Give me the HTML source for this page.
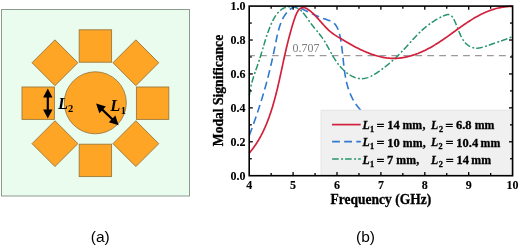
<!DOCTYPE html>
<html><head><meta charset="utf-8"><style>
html,body{margin:0;padding:0;background:#fff;width:520px;height:247px;overflow:hidden}
svg{display:block;filter:blur(0.3px)}
</style></head><body>
<svg width="520" height="247" viewBox="0 0 520 247">
<rect x="0" y="0" width="520" height="247" fill="#fff"/>
<!-- panel (a) -->
<rect x="1.5" y="9.5" width="188" height="186.5" fill="#e9fcee" stroke="#8e9a90" stroke-width="1"/>
<g fill="#ffa526" stroke="#9c7a3c" stroke-width="0.9">
<rect x="-16.20" y="-16.20" width="32.4" height="32.4" transform="translate(95.40,46.00) rotate(0)"/>
<rect x="-16.20" y="-16.20" width="32.4" height="32.4" transform="translate(135.85,62.75) rotate(45)"/>
<rect x="-16.20" y="-16.20" width="32.4" height="32.4" transform="translate(152.60,103.20) rotate(90)"/>
<rect x="-16.20" y="-16.20" width="32.4" height="32.4" transform="translate(135.85,143.65) rotate(135)"/>
<rect x="-16.20" y="-16.20" width="32.4" height="32.4" transform="translate(95.40,160.40) rotate(180)"/>
<rect x="-16.20" y="-16.20" width="32.4" height="32.4" transform="translate(54.95,143.65) rotate(225)"/>
<rect x="-16.20" y="-16.20" width="32.4" height="32.4" transform="translate(38.20,103.20) rotate(270)"/>
<rect x="-16.20" y="-16.20" width="32.4" height="32.4" transform="translate(54.95,62.75) rotate(315)"/>
<circle cx="95.3" cy="102.8" r="31.0"/>
</g>
<line x1="47.80" y1="95.60" x2="47.80" y2="111.20" stroke="#000" stroke-width="2.2"/>
<polygon points="47.80,88.40 43.10,97.40 52.50,97.40" fill="#000"/>
<polygon points="47.80,118.40 43.10,109.40 52.50,109.40" fill="#000"/>
<line x1="101.29" y1="108.59" x2="113.41" y2="120.21" stroke="#000" stroke-width="2.2"/>
<polygon points="96.10,103.60 99.34,113.22 105.85,106.44" fill="#000"/>
<polygon points="118.60,125.20 108.85,122.36 115.36,115.58" fill="#000"/>
<g font-family="Liberation Serif, serif" font-weight="bold" fill="#000">
<text x="57.9" y="109.3" font-size="16.5" font-style="italic">L</text>
<text x="68.0" y="111.6" font-size="10.5">2</text>
<text x="110.2" y="111.2" font-size="16.5" font-style="italic">L</text>
<text x="120.8" y="113.9" font-size="10.5">1</text>
</g>
<!-- panel (b) -->
<g fill="none" stroke-linejoin="round" stroke-linecap="butt">
<line x1="249.2" y1="55.7" x2="512.6" y2="55.7" stroke="#9a9a9a" stroke-width="1.3" stroke-dasharray="6.8 5.15" stroke-dashoffset="1.2"/>
<path d="M249.41,95.35 L249.52,94.34 L249.64,93.33 L249.78,92.33 L249.93,91.33 L250.10,90.33 L250.29,89.33 L250.48,88.34 L250.69,87.35 L250.91,86.36 L251.15,85.37 L251.39,84.39 L251.64,83.40 L251.91,82.42 L252.18,81.44 L252.46,80.47 L252.75,79.49 L253.05,78.52 L253.35,77.55 L253.66,76.58 L253.97,75.61 L254.29,74.64 L254.62,73.67 L254.94,72.71 L255.27,71.75 L255.60,70.78 L255.94,69.82 L256.27,68.86 L256.61,67.90 L256.94,66.95 L257.28,65.99 L257.61,65.03 L257.94,64.08 L258.27,63.12 L258.59,62.17 L258.91,61.22 L259.23,60.27 L259.54,59.31 L259.85,58.36 L260.15,57.41 L260.44,56.46 L260.74,55.51 L261.03,54.56 L261.32,53.61 L261.60,52.66 L261.89,51.71 L262.17,50.76 L262.45,49.81 L262.73,48.86 L263.01,47.91 L263.29,46.95 L263.57,46.00 L263.86,45.05 L264.14,44.10 L264.43,43.15 L264.72,42.19 L265.01,41.24 L265.30,40.28 L265.60,39.33 L265.91,38.37 L266.22,37.41 L266.53,36.45 L266.85,35.49 L267.17,34.53 L267.50,33.57 L267.84,32.61 L268.19,31.64 L268.54,30.68 L268.91,29.71 L269.28,28.74 L269.66,27.77 L270.05,26.80 L270.45,25.83 L270.86,24.85 L271.28,23.88 L271.71,22.91 L272.16,21.94 L272.62,20.99 L273.10,20.04 L273.59,19.10 L274.10,18.19 L274.62,17.28 L275.17,16.40 L275.74,15.54 L276.32,14.71 L276.93,13.90 L277.56,13.13 L278.21,12.38 L278.89,11.67 L279.59,11.00 L280.32,10.36 L281.07,9.77 L281.86,9.22 L282.67,8.72 L283.51,8.27 L284.38,7.87 L285.29,7.52 L286.22,7.23 L287.18,7.00 L288.16,6.82 L289.16,6.70 L290.17,6.64 L291.17,6.64 L292.18,6.69 L293.17,6.81 L294.15,6.99 L295.10,7.23 L296.03,7.53 L296.93,7.89 L297.79,8.32 L298.61,8.80 L299.41,9.33 L300.18,9.91 L300.92,10.53 L301.64,11.20 L302.34,11.90 L303.01,12.64 L303.67,13.41 L304.32,14.21 L304.95,15.02 L305.57,15.86 L306.19,16.71 L306.79,17.58 L307.39,18.45 L307.99,19.33 L308.59,20.20 L309.20,21.08 L309.80,21.95 L310.41,22.80 L311.04,23.65 L311.66,24.48 L312.30,25.30 L312.94,26.11 L313.58,26.92 L314.22,27.71 L314.87,28.50 L315.52,29.28 L316.16,30.06 L316.81,30.84 L317.45,31.61 L318.08,32.38 L318.72,33.16 L319.34,33.93 L319.96,34.71 L320.57,35.49 L321.17,36.27 L321.75,37.07 L322.33,37.87 L322.89,38.67 L323.44,39.49 L323.98,40.31 L324.51,41.14 L325.03,41.98 L325.53,42.83 L326.03,43.68 L326.53,44.53 L327.01,45.39 L327.50,46.26 L327.97,47.13 L328.45,48.00 L328.92,48.87 L329.40,49.75 L329.87,50.62 L330.35,51.50 L330.82,52.38 L331.31,53.25 L331.79,54.13 L332.28,55.00 L332.78,55.88 L333.29,56.75 L333.80,57.61 L334.33,58.47 L334.86,59.33 L335.41,60.19 L335.97,61.03 L336.54,61.87 L337.13,62.71 L337.74,63.54 L338.36,64.35 L339.00,65.17 L339.66,65.97 L340.34,66.76 L341.04,67.54 L341.77,68.31 L342.51,69.07 L343.28,69.82 L344.07,70.55 L344.88,71.27 L345.71,71.96 L346.55,72.63 L347.41,73.28 L348.28,73.90 L349.17,74.49 L350.06,75.06 L350.97,75.59 L351.89,76.08 L352.81,76.54 L353.74,76.97 L354.68,77.35 L355.62,77.68 L356.56,77.98 L357.50,78.22 L358.45,78.42 L359.39,78.57 L360.33,78.66 L361.26,78.70 L362.19,78.68 L363.12,78.62 L364.05,78.50 L364.97,78.34 L365.88,78.14 L366.79,77.89 L367.70,77.61 L368.60,77.28 L369.50,76.92 L370.40,76.53 L371.29,76.11 L372.17,75.66 L373.05,75.19 L373.93,74.69 L374.80,74.16 L375.67,73.62 L376.53,73.07 L377.39,72.50 L378.24,71.91 L379.09,71.32 L379.94,70.72 L380.77,70.11 L381.61,69.50 L382.44,68.88 L383.26,68.26 L384.08,67.64 L384.89,67.02 L385.70,66.39 L386.51,65.75 L387.30,65.11 L388.10,64.47 L388.88,63.82 L389.67,63.17 L390.44,62.52 L391.21,61.86 L391.98,61.19 L392.74,60.52 L393.49,59.84 L394.24,59.17 L394.99,58.48 L395.72,57.79 L396.45,57.10 L397.18,56.40 L397.90,55.69 L398.61,54.98 L399.32,54.26 L400.03,53.54 L400.72,52.81 L401.42,52.08 L402.11,51.35 L402.79,50.61 L403.48,49.87 L404.16,49.13 L404.84,48.39 L405.51,47.64 L406.19,46.89 L406.86,46.14 L407.53,45.39 L408.21,44.63 L408.88,43.88 L409.55,43.13 L410.23,42.38 L410.90,41.63 L411.58,40.88 L412.26,40.13 L412.95,39.38 L413.63,38.64 L414.32,37.90 L415.02,37.16 L415.72,36.43 L416.42,35.70 L417.13,34.97 L417.84,34.25 L418.56,33.53 L419.29,32.81 L420.02,32.11 L420.76,31.41 L421.51,30.71 L422.27,30.02 L423.03,29.34 L423.81,28.66 L424.59,28.00 L425.38,27.34 L426.17,26.69 L426.98,26.04 L427.79,25.41 L428.61,24.79 L429.43,24.17 L430.26,23.57 L431.10,22.98 L431.94,22.39 L432.79,21.82 L433.64,21.26 L434.50,20.71 L435.36,20.18 L436.23,19.65 L437.10,19.14 L437.98,18.65 L438.86,18.16 L439.74,17.69 L440.63,17.24 L441.52,16.80 L442.41,16.37 L443.31,15.96 L444.20,15.58 L445.09,15.23 L445.97,14.94 L446.83,14.72 L447.67,14.58 L448.48,14.55 L449.26,14.64 L450.00,14.86 L450.69,15.23 L451.34,15.74 L451.96,16.37 L452.54,17.11 L453.08,17.93 L453.60,18.83 L454.09,19.78 L454.56,20.77 L455.02,21.78 L455.46,22.80 L455.88,23.83 L456.30,24.86 L456.71,25.88 L457.11,26.91 L457.51,27.93 L457.91,28.95 L458.31,29.96 L458.71,30.97 L459.11,31.96 L459.52,32.95 L459.94,33.92 L460.37,34.87 L460.81,35.81 L461.27,36.73 L461.74,37.63 L462.23,38.50 L462.74,39.35 L463.28,40.18 L463.84,40.98 L464.42,41.75 L465.04,42.48 L465.69,43.19 L466.36,43.86 L467.07,44.49 L467.80,45.08 L468.56,45.62 L469.34,46.12 L470.14,46.58 L470.97,46.98 L471.83,47.32 L472.70,47.61 L473.59,47.84 L474.50,48.01 L475.42,48.12 L476.37,48.16 L477.32,48.14 L478.29,48.07 L479.28,47.95 L480.27,47.78 L481.28,47.57 L482.29,47.32 L483.31,47.04 L484.34,46.73 L485.38,46.40 L486.42,46.05 L487.46,45.69 L488.50,45.31 L489.55,44.94 L490.60,44.56 L491.64,44.18 L492.68,43.81 L493.72,43.45 L494.76,43.09 L495.79,42.73 L496.81,42.38 L497.83,42.04 L498.83,41.70 L499.83,41.36 L500.81,41.02 L501.78,40.69 L502.74,40.36 L503.68,40.03 L504.61,39.70 L505.52,39.37 L506.41,39.04 L507.29,38.71 L508.14,38.38 L508.97,38.05 L509.78,37.71 L510.56,37.37 L511.32,37.03 L512.06,36.69" stroke="#27946b" stroke-width="1.5" stroke-dasharray="6.6 2.4 2.0 2.0"/>
<path d="M249.33,135.24 L249.59,134.57 L249.85,133.89 L250.10,133.21 L250.35,132.54 L250.61,131.86 L250.86,131.19 L251.11,130.52 L251.35,129.85 L251.60,129.18 L251.85,128.51 L252.09,127.84 L252.34,127.17 L252.58,126.50 L252.82,125.84 L253.06,125.17 L253.30,124.51 L253.54,123.84 L253.78,123.18 L254.01,122.52 L254.25,121.85 L254.48,121.19 L254.72,120.53 L254.95,119.87 L255.18,119.21 L255.41,118.55 L255.64,117.90 L255.86,117.24 L256.09,116.58 L256.31,115.92 L256.54,115.27 L256.76,114.61 L256.98,113.96 L257.21,113.30 L257.43,112.65 L257.65,111.99 L257.86,111.34 L258.08,110.69 L258.30,110.03 L258.51,109.38 L258.73,108.73 L258.94,108.08 L259.15,107.43 L259.36,106.77 L259.57,106.12 L259.78,105.47 L259.99,104.82 L260.20,104.17 L260.40,103.52 L260.61,102.87 L260.81,102.22 L261.02,101.57 L261.22,100.92 L261.42,100.27 L261.62,99.62 L261.82,98.97 L262.02,98.32 L262.22,97.67 L262.41,97.02 L262.61,96.37 L262.80,95.72 L263.00,95.07 L263.19,94.41 L263.38,93.76 L263.58,93.11 L263.77,92.46 L263.96,91.81 L264.14,91.16 L264.33,90.51 L264.52,89.86 L264.71,89.20 L264.89,88.55 L265.08,87.90 L265.26,87.24 L265.44,86.59 L265.62,85.94 L265.81,85.28 L265.99,84.63 L266.17,83.97 L266.35,83.32 L266.52,82.66 L266.70,82.00 L266.88,81.35 L267.05,80.69 L267.23,80.03 L267.40,79.37 L267.57,78.71 L267.75,78.05 L267.92,77.39 L268.09,76.73 L268.26,76.07 L268.43,75.41 L268.60,74.74 L268.77,74.08 L268.93,73.42 L269.10,72.75 L269.26,72.08 L269.43,71.42 L269.59,70.75 L269.76,70.08 L269.92,69.41 L270.08,68.74 L270.24,68.07 L270.41,67.40 L270.57,66.72 L270.72,66.05 L270.88,65.38 L271.04,64.70 L271.20,64.02 L271.36,63.34 L271.51,62.67 L271.67,61.99 L271.82,61.30 L271.98,60.62 L272.13,59.94 L272.28,59.25 L272.43,58.57 L272.59,57.88 L272.74,57.19 L272.89,56.50 L273.04,55.81 L273.19,55.12 L273.33,54.43 L273.48,53.74 L273.63,53.04 L273.78,52.34 L273.92,51.65 L274.07,50.95 L274.21,50.24 L274.36,49.54 L274.50,48.84 L274.64,48.13 L274.79,47.43 L274.93,46.72 L275.07,46.01 L275.21,45.30 L275.35,44.59 L275.49,43.87 L275.63,43.16 L275.78,42.44 L275.92,41.73 L276.06,41.01 L276.20,40.30 L276.35,39.59 L276.50,38.87 L276.65,38.16 L276.80,37.45 L276.95,36.74 L277.10,36.03 L277.26,35.32 L277.42,34.62 L277.58,33.91 L277.75,33.21 L277.92,32.52 L278.10,31.82 L278.27,31.13 L278.45,30.44 L278.64,29.76 L278.83,29.08 L279.03,28.40 L279.23,27.73 L279.43,27.06 L279.64,26.39 L279.86,25.74 L280.08,25.08 L280.31,24.43 L280.54,23.79 L280.78,23.16 L281.03,22.52 L281.28,21.90 L281.54,21.28 L281.81,20.67 L282.09,20.07 L282.37,19.47 L282.66,18.88 L282.96,18.30 L283.27,17.72 L283.59,17.16 L283.91,16.60 L284.25,16.05 L284.59,15.51 L284.95,14.98 L285.31,14.46 L285.68,13.94 L286.07,13.44 L286.46,12.95 L286.86,12.46 L287.28,11.99 L287.70,11.53 L288.14,11.08 L288.59,10.64 L289.05,10.21 L289.52,9.79 L290.00,9.39 L290.50,9.00 L291.00,8.64 L291.52,8.31 L292.04,8.00 L292.58,7.73 L293.13,7.50 L293.68,7.31 L294.24,7.16 L294.82,7.07 L295.40,7.03 L295.99,7.03 L296.58,7.08 L297.19,7.17 L297.80,7.29 L298.42,7.45 L299.04,7.65 L299.67,7.87 L300.31,8.11 L300.95,8.38 L301.60,8.67 L302.25,8.98 L302.90,9.29 L303.56,9.62 L304.22,9.96 L304.89,10.30 L305.56,10.63 L306.23,10.97 L306.91,11.31 L307.58,11.64 L308.26,11.97 L308.94,12.30 L309.62,12.62 L310.31,12.95 L310.99,13.27 L311.68,13.58 L312.36,13.90 L313.05,14.21 L313.73,14.52 L314.42,14.82 L315.10,15.12 L315.78,15.42 L316.46,15.71 L317.14,16.00 L317.82,16.28 L318.50,16.56 L319.17,16.84 L319.85,17.11 L320.52,17.38 L321.18,17.64 L321.84,17.90 L322.50,18.15 L323.16,18.40 L323.81,18.64 L324.46,18.88 L325.10,19.11 L325.74,19.33 L326.37,19.55 L327.00,19.77 L327.62,19.98 L328.23,20.19 L328.84,20.40 L329.43,20.62 L330.01,20.85 L330.58,21.09 L331.13,21.34 L331.67,21.61 L332.19,21.90 L332.69,22.21 L333.17,22.55 L333.63,22.91 L334.07,23.29 L334.49,23.70 L334.89,24.13 L335.28,24.58 L335.65,25.05 L336.00,25.54 L336.34,26.05 L336.66,26.58 L336.97,27.12 L337.26,27.68 L337.54,28.26 L337.80,28.85 L338.06,29.46 L338.30,30.08 L338.53,30.71 L338.74,31.35 L338.95,32.00 L339.15,32.66 L339.33,33.33 L339.51,34.01 L339.68,34.70 L339.84,35.39 L340.00,36.09 L340.15,36.79 L340.29,37.50 L340.43,38.21 L340.56,38.92 L340.68,39.63 L340.81,40.34 L340.92,41.05 L341.04,41.77 L341.15,42.48 L341.26,43.19 L341.37,43.90 L341.47,44.62 L341.57,45.33 L341.66,46.04 L341.76,46.75 L341.85,47.46 L341.94,48.17 L342.03,48.88 L342.11,49.59 L342.20,50.30 L342.28,51.01 L342.36,51.72 L342.44,52.42 L342.52,53.13 L342.60,53.84 L342.67,54.54 L342.75,55.25 L342.82,55.95 L342.89,56.66 L342.97,57.36 L343.04,58.06 L343.11,58.76 L343.18,59.46 L343.26,60.17 L343.33,60.86 L343.40,61.56 L343.48,62.26 L343.55,62.96 L343.63,63.65 L343.70,64.35 L343.78,65.04 L343.86,65.73 L343.94,66.42 L344.02,67.12 L344.10,67.80 L344.19,68.49 L344.28,69.18 L344.36,69.87 L344.46,70.55 L344.55,71.23 L344.64,71.92 L344.74,72.60 L344.84,73.28 L344.95,73.96 L345.06,74.63 L345.17,75.31 L345.28,75.98 L345.40,76.65 L345.52,77.33 L345.64,78.00 L345.77,78.66 L345.90,79.33 L346.04,80.00 L346.18,80.66 L346.33,81.32 L346.47,81.98 L346.63,82.64 L346.79,83.30 L346.95,83.95 L347.12,84.60 L347.30,85.26 L347.48,85.91 L347.66,86.55 L347.85,87.20 L348.05,87.84 L348.25,88.48 L348.46,89.13 L348.68,89.76 L348.90,90.40 L349.13,91.03 L349.36,91.67 L349.61,92.30 L349.85,92.92 L350.11,93.55 L350.37,94.17 L350.64,94.79 L350.92,95.41 L351.21,96.03 L351.50,96.65 L351.80,97.26 L352.11,97.87 L352.43,98.48 L352.75,99.08 L353.09,99.68 L353.43,100.29 L353.78,100.88 L354.14,101.48 L354.51,102.07 L354.89,102.66 L355.28,103.25 L355.68,103.84 L356.08,104.42 L356.50,105.00 L356.93,105.58 L357.36,106.15 L357.81,106.72 L358.27,107.29 L358.73,107.86 L359.21,108.42 L359.70,108.99 L360.20,109.54 L360.71,110.10 L361.23,110.65" stroke="#2f78cf" stroke-width="1.6" stroke-dasharray="7.8 4.3"/>
<path d="M249.22,153.10 L249.86,152.35 L250.50,151.59 L251.13,150.82 L251.74,150.04 L252.35,149.26 L252.95,148.47 L253.54,147.67 L254.12,146.86 L254.69,146.05 L255.25,145.23 L255.81,144.41 L256.36,143.58 L256.89,142.74 L257.42,141.90 L257.94,141.05 L258.46,140.20 L258.96,139.34 L259.46,138.47 L259.95,137.60 L260.43,136.73 L260.91,135.85 L261.37,134.96 L261.83,134.07 L262.29,133.18 L262.73,132.28 L263.17,131.38 L263.60,130.47 L264.03,129.56 L264.45,128.65 L264.86,127.73 L265.26,126.81 L265.66,125.88 L266.05,124.96 L266.44,124.02 L266.82,123.09 L267.19,122.15 L267.56,121.21 L267.93,120.27 L268.28,119.33 L268.63,118.38 L268.98,117.44 L269.32,116.49 L269.66,115.53 L269.99,114.58 L270.31,113.63 L270.63,112.67 L270.95,111.71 L271.26,110.76 L271.57,109.80 L271.87,108.84 L272.17,107.88 L272.46,106.92 L272.75,105.96 L273.03,104.99 L273.31,104.03 L273.59,103.07 L273.86,102.11 L274.13,101.15 L274.40,100.19 L274.66,99.23 L274.92,98.27 L275.18,97.31 L275.43,96.35 L275.68,95.39 L275.93,94.43 L276.17,93.47 L276.41,92.51 L276.65,91.55 L276.89,90.59 L277.12,89.63 L277.36,88.67 L277.59,87.71 L277.81,86.75 L278.04,85.79 L278.26,84.83 L278.48,83.87 L278.70,82.91 L278.92,81.95 L279.14,80.99 L279.36,80.03 L279.57,79.06 L279.78,78.10 L280.00,77.14 L280.21,76.18 L280.42,75.21 L280.63,74.25 L280.84,73.28 L281.05,72.32 L281.26,71.36 L281.46,70.39 L281.67,69.42 L281.88,68.46 L282.09,67.49 L282.30,66.52 L282.50,65.56 L282.71,64.59 L282.92,63.62 L283.13,62.65 L283.34,61.68 L283.55,60.71 L283.76,59.74 L283.98,58.76 L284.19,57.79 L284.41,56.82 L284.62,55.84 L284.84,54.87 L285.06,53.89 L285.28,52.92 L285.50,51.94 L285.73,50.96 L285.95,49.98 L286.18,49.00 L286.41,48.02 L286.64,47.04 L286.88,46.06 L287.11,45.07 L287.35,44.09 L287.60,43.10 L287.84,42.11 L288.09,41.13 L288.34,40.14 L288.59,39.14 L288.85,38.15 L289.11,37.16 L289.37,36.16 L289.64,35.16 L289.91,34.17 L290.18,33.16 L290.46,32.16 L290.74,31.16 L291.03,30.15 L291.32,29.14 L291.61,28.13 L291.91,27.11 L292.22,26.10 L292.52,25.08 L292.84,24.06 L293.15,23.04 L293.47,22.01 L293.80,20.98 L294.13,19.95 L294.47,18.93 L294.82,17.91 L295.18,16.91 L295.54,15.93 L295.92,14.98 L296.32,14.07 L296.73,13.18 L297.15,12.35 L297.60,11.56 L298.06,10.82 L298.54,10.15 L299.05,9.54 L299.58,9.00 L300.13,8.53 L300.71,8.15 L301.32,7.85 L301.95,7.65 L302.61,7.55 L303.29,7.54 L303.99,7.62 L304.71,7.80 L305.44,8.04 L306.19,8.37 L306.94,8.75 L307.70,9.20 L308.47,9.70 L309.23,10.24 L310.00,10.82 L310.76,11.44 L311.52,12.09 L312.27,12.77 L313.02,13.47 L313.77,14.20 L314.52,14.95 L315.26,15.72 L316.01,16.50 L316.75,17.30 L317.49,18.11 L318.23,18.93 L318.97,19.76 L319.71,20.59 L320.44,21.43 L321.18,22.26 L321.92,23.09 L322.65,23.92 L323.39,24.74 L324.13,25.55 L324.87,26.35 L325.61,27.14 L326.35,27.91 L327.10,28.65 L327.85,29.38 L328.59,30.09 L329.34,30.76 L330.10,31.42 L330.86,32.04 L331.61,32.64 L332.38,33.22 L333.14,33.79 L333.92,34.33 L334.69,34.86 L335.47,35.38 L336.25,35.89 L337.04,36.39 L337.84,36.88 L338.64,37.38 L339.44,37.86 L340.25,38.35 L341.07,38.84 L341.89,39.34 L342.72,39.83 L343.55,40.33 L344.39,40.82 L345.24,41.32 L346.09,41.82 L346.94,42.31 L347.80,42.81 L348.67,43.30 L349.54,43.80 L350.41,44.29 L351.29,44.78 L352.18,45.26 L353.07,45.74 L353.96,46.22 L354.86,46.70 L355.76,47.17 L356.66,47.64 L357.57,48.10 L358.49,48.56 L359.40,49.01 L360.32,49.46 L361.25,49.90 L362.18,50.33 L363.11,50.76 L364.04,51.18 L364.98,51.59 L365.92,51.99 L366.86,52.38 L367.81,52.77 L368.75,53.14 L369.70,53.51 L370.66,53.86 L371.61,54.21 L372.57,54.54 L373.53,54.87 L374.49,55.18 L375.45,55.48 L376.42,55.76 L377.38,56.04 L378.35,56.30 L379.32,56.55 L380.29,56.78 L381.26,57.00 L382.23,57.20 L383.21,57.39 L384.18,57.57 L385.16,57.73 L386.13,57.87 L387.11,58.00 L388.08,58.11 L389.06,58.20 L390.04,58.27 L391.01,58.33 L391.99,58.37 L392.97,58.39 L393.94,58.39 L394.92,58.38 L395.90,58.35 L396.87,58.30 L397.84,58.23 L398.82,58.15 L399.79,58.05 L400.76,57.93 L401.73,57.80 L402.70,57.66 L403.67,57.50 L404.63,57.32 L405.60,57.13 L406.56,56.93 L407.52,56.71 L408.48,56.47 L409.44,56.23 L410.39,55.97 L411.34,55.69 L412.29,55.41 L413.24,55.11 L414.19,54.80 L415.13,54.48 L416.07,54.14 L417.00,53.79 L417.94,53.44 L418.87,53.07 L419.79,52.69 L420.72,52.30 L421.64,51.90 L422.55,51.49 L423.47,51.07 L424.37,50.64 L425.28,50.21 L426.18,49.76 L427.08,49.30 L427.97,48.84 L428.86,48.37 L429.74,47.89 L430.62,47.40 L431.50,46.91 L432.37,46.41 L433.23,45.90 L434.10,45.38 L434.96,44.86 L435.81,44.34 L436.66,43.80 L437.51,43.27 L438.36,42.72 L439.20,42.18 L440.04,41.62 L440.88,41.07 L441.72,40.51 L442.55,39.94 L443.38,39.38 L444.21,38.80 L445.03,38.23 L445.86,37.65 L446.68,37.07 L447.50,36.49 L448.32,35.91 L449.14,35.32 L449.96,34.74 L450.77,34.15 L451.59,33.56 L452.40,32.97 L453.22,32.38 L454.03,31.80 L454.84,31.21 L455.65,30.62 L456.47,30.03 L457.28,29.44 L458.09,28.86 L458.91,28.28 L459.72,27.69 L460.54,27.11 L461.35,26.54 L462.17,25.96 L462.99,25.39 L463.81,24.82 L464.63,24.26 L465.45,23.70 L466.28,23.14 L467.10,22.59 L467.93,22.04 L468.76,21.50 L469.59,20.96 L470.43,20.43 L471.26,19.90 L472.10,19.38 L472.95,18.86 L473.79,18.35 L474.64,17.85 L475.49,17.36 L476.35,16.87 L477.21,16.39 L478.07,15.91 L478.94,15.45 L479.81,14.99 L480.68,14.55 L481.56,14.11 L482.44,13.68 L483.33,13.26 L484.22,12.85 L485.12,12.45 L486.02,12.06 L486.93,11.68 L487.84,11.31 L488.76,10.95 L489.68,10.60 L490.61,10.27 L491.55,9.94 L492.49,9.63 L493.43,9.33 L494.39,9.05 L495.35,8.77 L496.31,8.51 L497.29,8.26 L498.27,8.03 L499.25,7.81 L500.25,7.61 L501.25,7.42 L502.25,7.24 L503.27,7.08 L504.29,6.93 L505.32,6.80 L506.36,6.69 L507.41,6.59 L508.46,6.51 L509.53,6.44 L510.60,6.40 L511.68,6.37 L512.77,6.35" stroke="#d2213c" stroke-width="1.7"/>
</g>
<text x="292.5" y="52.4" font-family="Liberation Serif, serif" font-size="12" fill="#7c7c7c">0.707</text>
<!-- legend -->
<rect x="321.0" y="110.1" width="190.5" height="65.4" fill="#f0f0f0" stroke="#e0e0e0" stroke-width="0.8"/>
<line x1="332.0" y1="124.6" x2="360.7" y2="124.6" stroke="#d2213c" stroke-width="1.7"/>
<line x1="332.1" y1="141.6" x2="360.8" y2="141.6" stroke="#2f78cf" stroke-width="1.6" stroke-dasharray="7.8 4.3"/>
<line x1="332.1" y1="158.9" x2="360.8" y2="158.9" stroke="#27946b" stroke-width="1.5" stroke-dasharray="6.6 2.4 2.0 2.0"/>
<g font-family="Liberation Serif, serif" font-weight="bold" fill="#000" stroke="#000" stroke-width="0.3">
<text x="362.60" y="128.70" font-size="11.8" text-anchor="start" font-style="italic">L</text>
<text x="372.00" y="131.90" font-size="8.2" text-anchor="middle" >1</text>
<text transform="translate(380.60,129.90) scale(1.2,1.0)" font-size="11.8" text-anchor="middle" >=</text>
<text transform="translate(393.60,129.20) scale(1.06,1.0)" font-size="11.8" text-anchor="middle" >14</text>
<text x="412.30" y="129.20" font-size="11.8" text-anchor="middle" >mm</text>
<text x="424.00" y="129.20" font-size="11.8" text-anchor="middle" >,</text>
<text x="430.90" y="128.70" font-size="11.8" text-anchor="start" font-style="italic">L</text>
<text x="441.00" y="131.90" font-size="8.2" text-anchor="middle" >2</text>
<text transform="translate(449.30,129.90) scale(1.2,1.0)" font-size="11.8" text-anchor="middle" >=</text>
<text transform="translate(463.80,129.20) scale(1.06,1.0)" font-size="11.8" text-anchor="middle" >6.8</text>
<text x="484.50" y="129.20" font-size="11.8" text-anchor="middle" >mm</text>
<text x="362.60" y="146.00" font-size="11.8" text-anchor="start" font-style="italic">L</text>
<text x="372.10" y="149.20" font-size="8.2" text-anchor="middle" >1</text>
<text transform="translate(380.60,147.20) scale(1.2,1.0)" font-size="11.8" text-anchor="middle" >=</text>
<text transform="translate(393.60,146.50) scale(1.06,1.0)" font-size="11.8" text-anchor="middle" >10</text>
<text x="412.70" y="146.50" font-size="11.8" text-anchor="middle" >mm</text>
<text x="424.20" y="146.50" font-size="11.8" text-anchor="middle" >,</text>
<text x="430.90" y="146.00" font-size="11.8" text-anchor="start" font-style="italic">L</text>
<text x="440.60" y="149.20" font-size="8.2" text-anchor="middle" >2</text>
<text transform="translate(449.60,147.20) scale(1.2,1.0)" font-size="11.8" text-anchor="middle" >=</text>
<text transform="translate(467.30,146.50) scale(1.06,1.0)" font-size="11.8" text-anchor="middle" >10.4</text>
<text x="490.40" y="146.50" font-size="11.8" text-anchor="middle" >mm</text>
<text x="362.60" y="163.50" font-size="11.8" text-anchor="start" font-style="italic">L</text>
<text x="372.00" y="166.70" font-size="8.2" text-anchor="middle" >1</text>
<text transform="translate(380.60,164.70) scale(1.2,1.0)" font-size="11.8" text-anchor="middle" >=</text>
<text transform="translate(390.10,164.00) scale(1.06,1.0)" font-size="11.8" text-anchor="middle" >7</text>
<text x="406.20" y="164.00" font-size="11.8" text-anchor="middle" >mm</text>
<text x="417.70" y="164.00" font-size="11.8" text-anchor="middle" >,</text>
<text x="430.90" y="163.50" font-size="11.8" text-anchor="start" font-style="italic">L</text>
<text x="440.70" y="166.70" font-size="8.2" text-anchor="middle" >2</text>
<text transform="translate(449.80,164.70) scale(1.2,1.0)" font-size="11.8" text-anchor="middle" >=</text>
<text transform="translate(462.70,164.00) scale(1.06,1.0)" font-size="11.8" text-anchor="middle" >14</text>
<text x="481.20" y="164.00" font-size="11.8" text-anchor="middle" >mm</text>
</g>
<!-- axes frame -->
<rect x="249.2" y="6.1" width="263.40" height="169.60" fill="none" stroke="#000" stroke-width="1.6"/>
<g stroke="#000" stroke-width="1.3">
<line x1="271.15" y1="175.7" x2="271.15" y2="173.1"/>
<line x1="271.15" y1="6.1" x2="271.15" y2="8.7"/>
<line x1="293.10" y1="175.7" x2="293.10" y2="172.1"/>
<line x1="293.10" y1="6.1" x2="293.10" y2="9.7"/>
<line x1="315.05" y1="175.7" x2="315.05" y2="173.1"/>
<line x1="315.05" y1="6.1" x2="315.05" y2="8.7"/>
<line x1="337.00" y1="175.7" x2="337.00" y2="172.1"/>
<line x1="337.00" y1="6.1" x2="337.00" y2="9.7"/>
<line x1="358.95" y1="175.7" x2="358.95" y2="173.1"/>
<line x1="358.95" y1="6.1" x2="358.95" y2="8.7"/>
<line x1="380.90" y1="175.7" x2="380.90" y2="172.1"/>
<line x1="380.90" y1="6.1" x2="380.90" y2="9.7"/>
<line x1="402.85" y1="175.7" x2="402.85" y2="173.1"/>
<line x1="402.85" y1="6.1" x2="402.85" y2="8.7"/>
<line x1="424.80" y1="175.7" x2="424.80" y2="172.1"/>
<line x1="424.80" y1="6.1" x2="424.80" y2="9.7"/>
<line x1="446.75" y1="175.7" x2="446.75" y2="173.1"/>
<line x1="446.75" y1="6.1" x2="446.75" y2="8.7"/>
<line x1="468.70" y1="175.7" x2="468.70" y2="172.1"/>
<line x1="468.70" y1="6.1" x2="468.70" y2="9.7"/>
<line x1="490.65" y1="175.7" x2="490.65" y2="173.1"/>
<line x1="490.65" y1="6.1" x2="490.65" y2="8.7"/>
<line x1="249.2" y1="158.74" x2="251.79999999999998" y2="158.74"/>
<line x1="512.6" y1="158.74" x2="510.0" y2="158.74"/>
<line x1="249.2" y1="141.78" x2="252.79999999999998" y2="141.78"/>
<line x1="512.6" y1="141.78" x2="509.0" y2="141.78"/>
<line x1="249.2" y1="124.82" x2="251.79999999999998" y2="124.82"/>
<line x1="512.6" y1="124.82" x2="510.0" y2="124.82"/>
<line x1="249.2" y1="107.86" x2="252.79999999999998" y2="107.86"/>
<line x1="512.6" y1="107.86" x2="509.0" y2="107.86"/>
<line x1="249.2" y1="90.90" x2="251.79999999999998" y2="90.90"/>
<line x1="512.6" y1="90.90" x2="510.0" y2="90.90"/>
<line x1="249.2" y1="73.94" x2="252.79999999999998" y2="73.94"/>
<line x1="512.6" y1="73.94" x2="509.0" y2="73.94"/>
<line x1="249.2" y1="56.98" x2="251.79999999999998" y2="56.98"/>
<line x1="512.6" y1="56.98" x2="510.0" y2="56.98"/>
<line x1="249.2" y1="40.02" x2="252.79999999999998" y2="40.02"/>
<line x1="512.6" y1="40.02" x2="509.0" y2="40.02"/>
<line x1="249.2" y1="23.06" x2="251.79999999999998" y2="23.06"/>
<line x1="512.6" y1="23.06" x2="510.0" y2="23.06"/>
</g>
<g font-family="Liberation Serif, serif" font-weight="bold" font-size="11" fill="#000" stroke="#000" stroke-width="0.12">
<text transform="translate(245.40,179.80) scale(1.0,1.05)" font-size="12.0" text-anchor="end" >0.0</text>
<text transform="translate(245.40,145.88) scale(1.0,1.05)" font-size="12.0" text-anchor="end" >0.2</text>
<text transform="translate(245.40,111.96) scale(1.0,1.05)" font-size="12.0" text-anchor="end" >0.4</text>
<text transform="translate(245.40,78.04) scale(1.0,1.05)" font-size="12.0" text-anchor="end" >0.6</text>
<text transform="translate(245.40,44.12) scale(1.0,1.05)" font-size="12.0" text-anchor="end" >0.8</text>
<text transform="translate(245.40,10.20) scale(1.0,1.05)" font-size="12.0" text-anchor="end" >1.0</text>
<text transform="translate(249.20,189.00) scale(1.0,1.05)" font-size="12.0" text-anchor="middle" >4</text>
<text transform="translate(293.10,189.00) scale(1.0,1.05)" font-size="12.0" text-anchor="middle" >5</text>
<text transform="translate(337.00,189.00) scale(1.0,1.05)" font-size="12.0" text-anchor="middle" >6</text>
<text transform="translate(380.90,189.00) scale(1.0,1.05)" font-size="12.0" text-anchor="middle" >7</text>
<text transform="translate(424.80,189.00) scale(1.0,1.05)" font-size="12.0" text-anchor="middle" >8</text>
<text transform="translate(468.70,189.00) scale(1.0,1.05)" font-size="12.0" text-anchor="middle" >9</text>
<text transform="translate(512.60,189.00) scale(1.0,1.05)" font-size="12.0" text-anchor="middle" >10</text>
</g>
<text transform="translate(380.9,204.3) scale(1,1.08)" text-anchor="middle" font-family="Liberation Serif, serif" font-weight="bold" font-size="13.5" fill="#000" stroke="#000" stroke-width="0.3">Frequency (GHz)</text>
<text transform="translate(222.8,90.5) rotate(-90) scale(1,1.05)" text-anchor="middle" font-family="Liberation Serif, serif" font-weight="bold" font-size="13.6" fill="#000" stroke="#000" stroke-width="0.3">Modal Significance</text>
<g font-family="Liberation Sans, sans-serif" font-size="15.5" fill="#000">
<text x="100.3" y="241.9" text-anchor="middle">(a)</text>
<text x="365.5" y="241.9" text-anchor="middle">(b)</text>
</g>
</svg>
</body></html>
